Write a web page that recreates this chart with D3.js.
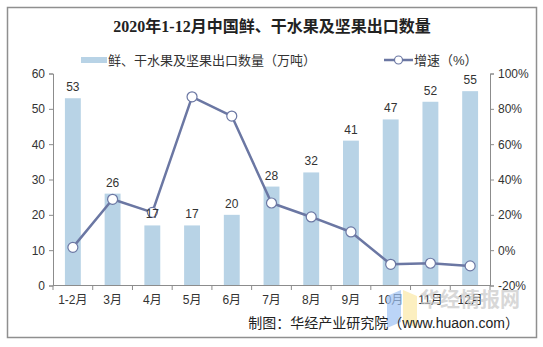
<!DOCTYPE html>
<html>
<head>
<meta charset="utf-8">
<script src="https://cdn.jsdelivr.net/npm/d3@7"></script>
<style>
  body { margin: 0; background: #fff; }
  svg text { font-family: "Liberation Sans", Arial, "Noto Sans CJK SC", sans-serif; }
</style>
</head>
<body>
<div id="chart"></div>
<script>
// chart data
var months = ["1-2月", "3月", "4月", "5月", "6月", "7月", "8月", "9月", "10月", "11月", "12月"];
var volume = [53, 26, 17, 17, 20, 28, 32, 41, 47, 52, 55];
var growth = [1.6, 28.8, 21.4, 86.8, 75.9, 26.7, 18.8, 10.3, -8.0, -7.4, -8.9];
var leftTicks = [0, 10, 20, 30, 40, 50, 60];
var rightTicks = [-20, 0, 20, 40, 60, 80, 100];

var W = 543, H = 347;
var barColor = "#b8d3e6", lineColor = "#6b77a3", axisColor = "#8c8c8c", textColor = "#333";

var svg = d3.select("#chart").append("svg")
    .attr("width", W).attr("height", H);

// outer frame
svg.append("rect")
    .attr("x", 7.5).attr("y", 7.5)
    .attr("width", 529).attr("height", 330)
    .attr("fill", "#fff").attr("stroke", "#8f8f8f").attr("stroke-width", 1.5);

// title
svg.append("text")
    .attr("x", 272).attr("y", 32)
    .attr("text-anchor", "middle")
    .style("font-family", "'Liberation Serif', 'Noto Sans CJK SC', serif")
    .style("font-size", "16px").style("font-weight", "bold")
    .attr("fill", "#222")
    .text("2020年1-12月中国鲜、干水果及坚果出口数量");

// scales
var x = d3.scaleBand().domain(months).range([53, 490]).paddingInner(0.6).paddingOuter(0.3);
var yL = d3.scaleLinear().domain([0, 60]).range([285.5, 73.5]);
var yR = d3.scaleLinear().domain([-20, 100]).range([285.5, 73.5]);

// bars
svg.selectAll("rect.bar")
    .data(volume)
  .enter().append("rect")
    .attr("class", "bar")
    .attr("x", function(d, i) { return x(months[i]); })
    .attr("y", function(d) { return yL(d); })
    .attr("width", x.bandwidth())
    .attr("height", function(d) { return yL(0) - yL(d); })
    .attr("fill", barColor);

// axes
var leftAxis = d3.axisLeft(yL).tickValues(leftTicks).tickSize(4).tickPadding(4);
var rightAxis = d3.axisRight(yR).tickValues(rightTicks).tickSize(4).tickPadding(4)
    .tickFormat(function(d) { return d + "%"; });
var bottomAxis = d3.axisBottom(x).tickSize(0).tickPadding(10);

function styleAxis(g) {
    g.select(".domain").attr("stroke", axisColor);
    g.selectAll(".tick line").attr("stroke", axisColor);
    g.selectAll(".tick text").attr("fill", textColor).style("font-size", "12px");
}

svg.append("g").attr("transform", "translate(53,0)").call(leftAxis).call(styleAxis);
svg.append("g").attr("transform", "translate(490,0)").call(rightAxis).call(styleAxis);
var xg = svg.append("g").attr("transform", "translate(0,285.5)").call(bottomAxis).call(styleAxis);
xg.select(".domain").attr("d", "M53,0H490");

// category boundary ticks on the x axis
var step = x.step();
svg.selectAll("line.xtick")
    .data(d3.range(months.length + 1))
  .enter().append("line")
    .attr("class", "xtick")
    .attr("x1", function(i) { return 53 + i * step; })
    .attr("x2", function(i) { return 53 + i * step; })
    .attr("y1", 285.5).attr("y2", 290)
    .attr("stroke", axisColor);

// growth line
var line = d3.line()
    .x(function(d, i) { return x(months[i]) + x.bandwidth() / 2; })
    .y(function(d) { return yR(d); });

svg.append("path")
    .datum(growth)
    .attr("fill", "none")
    .attr("stroke", lineColor)
    .attr("stroke-width", 2.5)
    .attr("stroke-linejoin", "round")
    .attr("d", line);

svg.selectAll("circle.pt")
    .data(growth)
  .enter().append("circle")
    .attr("class", "pt")
    .attr("cx", function(d, i) { return x(months[i]) + x.bandwidth() / 2; })
    .attr("cy", function(d) { return yR(d); })
    .attr("r", 5)
    .attr("fill", "#fff")
    .attr("stroke", lineColor)
    .attr("stroke-width", 1.2);

// bar labels (drawn over the line, as in the original)
svg.selectAll("text.vlabel")
    .data(volume)
  .enter().append("text")
    .attr("class", "vlabel")
    .attr("x", function(d, i) { return x(months[i]) + x.bandwidth() / 2; })
    .attr("y", function(d) { return yL(d) - 7; })
    .attr("text-anchor", "middle")
    .style("font-size", "12px")
    .attr("fill", textColor)
    .text(function(d) { return d; });

// legend
var lg = svg.append("g");
lg.append("rect").attr("x", 81).attr("y", 57).attr("width", 26).attr("height", 6).attr("fill", barColor);
lg.append("text").attr("x", 108).attr("y", 65)
    .style("font-size", "13px").attr("fill", textColor)
    .text("鲜、干水果及坚果出口数量（万吨）");
lg.append("line").attr("x1", 384).attr("x2", 413).attr("y1", 60).attr("y2", 60)
    .attr("stroke", lineColor).attr("stroke-width", 2.5);
lg.append("circle").attr("cx", 398.5).attr("cy", 60).attr("r", 4)
    .attr("fill", "#fff").attr("stroke", lineColor).attr("stroke-width", 1.2);
lg.append("text").attr("x", 414).attr("y", 65)
    .style("font-size", "13px").attr("fill", textColor)
    .text("增速（%）");

// watermark
var wm = svg.append("g").attr("opacity", 0.7);
wm.append("path").attr("d", "M387,296 L401,290 L401,322 L387,328 Z").attr("fill", "#9fc3f5");
wm.append("path").attr("d", "M403,290 L417,296 L417,328 L403,322 Z").attr("fill", "#fbe9a6");
wm.append("text").attr("x", 420).attr("y", 307)
    .style("font-family", "'Noto Sans CJK SC', sans-serif")
    .style("font-size", "20px").style("font-weight", "bold")
    .attr("fill", "#c8c8c8")
    .text("华经情报网");

// source note
svg.append("text")
    .attr("x", 519).attr("y", 328)
    .attr("text-anchor", "end")
    .style("font-size", "14px").attr("fill", "#222")
    .text("制图：华经产业研究院（www.huaon.com）");
</script>
</body>
</html>
